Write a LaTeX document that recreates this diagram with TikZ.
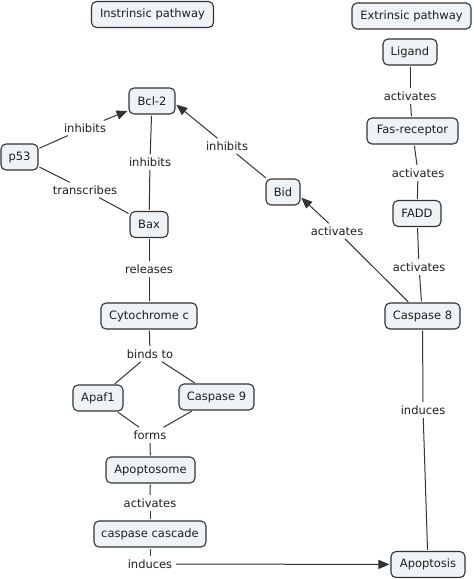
\documentclass[tikz,border=0pt]{standalone}
\usepackage{fontspec}
\setmainfont{DejaVu Sans}
\usetikzlibrary{arrows.meta,calc}
\definecolor{boxfill}{HTML}{EDF3F6}
\definecolor{boxline}{HTML}{333333}
\definecolor{linkcol}{HTML}{333333}
\definecolor{txt}{HTML}{1E1E1E}
\begin{document}
\begin{tikzpicture}[x=1pt,y=-1pt,
 every node/.style={font=\fontsize{11.5}{13}\selectfont, text=txt},
 concept/.style={draw=boxline, fill=boxfill, rounded corners=5pt, line width=1.1pt, minimum height=26pt, inner sep=0pt},
 lbl/.style={inner sep=2.5pt},
 link/.style={draw=linkcol, line width=1pt, shorten <=1pt, shorten >=1pt},
 arr/.style={link, -{Triangle[length=11pt,width=9pt]}}]
\useasboundingbox (0,0) rectangle (474,579);
% concepts
\node[concept, minimum width=122pt] (intr) at (152.5,14.5) {Instrinsic pathway};
\node[concept, minimum width=119pt] (extr) at (411.5,16) {Extrinsic pathway};
\node[concept, minimum width=54pt] (lig) at (410,52) {Ligand};
\node[concept, minimum width=91pt] (fas) at (412.5,131) {Fas-receptor};
\node[concept, minimum width=48pt] (fadd) at (417,213.5) {FADD};
\node[concept, minimum width=75pt] (c8) at (422.5,316) {Caspase 8};
\node[concept, minimum width=74pt] (apo) at (428,564.5) {Apoptosis};
\node[concept, minimum width=46pt] (bcl) at (152,101) {Bcl-2};
\node[concept, minimum width=37pt] (p53) at (19.5,157) {p53};
\node[concept, minimum width=38pt] (bax) at (149,224.5) {Bax};
\node[concept, minimum width=34pt] (bid) at (283,192) {Bid};
\node[concept, minimum width=96pt] (cyt) at (149,316) {Cytochrome c};
\node[concept, minimum width=50pt] (apaf) at (98,398) {Apaf1};
\node[concept, minimum width=75pt] (c9) at (216.5,397) {Caspase 9};
\node[concept, minimum width=89pt] (aps) at (150.5,470) {Apoptosome};
\node[concept, minimum width=112pt] (cas) at (150,534) {caspase cascade};
% linking phrases
\node[lbl] (l1) at (85,128) {inhibits};
\node[lbl] (l2) at (85,190) {transcribes};
\node[lbl] (l3) at (150,162) {inhibits};
\node[lbl] (l4) at (227,146) {inhibits};
\node[lbl] (l5) at (337,231) {activates};
\node[lbl] (l6) at (410,96) {activates};
\node[lbl] (l7) at (418,173) {activates};
\node[lbl] (l8) at (419,267) {activates};
\node[lbl] (l9) at (423,410) {induces};
\node[lbl] (l10) at (149,269) {releases};
\node[lbl] (l11) at (150,354) {binds to};
\node[lbl] (l12) at (150,435) {forms};
\node[lbl] (l13) at (150,503) {activates};
\node[lbl] (l14) at (150,564) {induces};
% connectors
\draw[link] (p53) -- (l1); \draw[arr] (l1) -- (bcl);
\draw[link] (p53) -- (l2); \draw[link] (l2) -- (bax);
\draw[link] (bcl) -- (l3); \draw[link] (l3) -- (bax);
\draw[link] (bid) -- (l4); \draw[arr] (l4) -- ([yshift=-3pt]bcl.east);
\draw[link] (c8) -- (l5); \draw[arr] (l5) -- ([yshift=-5pt]bid.east);
\draw[link] (lig) -- (l6); \draw[link] (l6) -- (fas);
\draw[link] (fas) -- (l7); \draw[link] (l7) -- (fadd);
\draw[link] (fadd) -- (l8); \draw[link] (l8) -- (c8);
\draw[link] (c8) -- (l9); \draw[link] (l9) -- (apo);
\draw[link] (bax) -- (l10); \draw[link] (l10) -- (cyt);
\draw[link] (cyt) -- (l11); \draw[link] (l11) -- (apaf); \draw[link] (l11) -- (c9);
\draw[link] (apaf) -- (l12); \draw[link] (c9) -- (l12); \draw[link] (l12) -- (aps);
\draw[link] (aps) -- (l13); \draw[link] (l13) -- (cas);
\draw[link] (cas) -- (l14); \draw[arr] (l14) -- (apo);
\end{tikzpicture}
\end{document}
